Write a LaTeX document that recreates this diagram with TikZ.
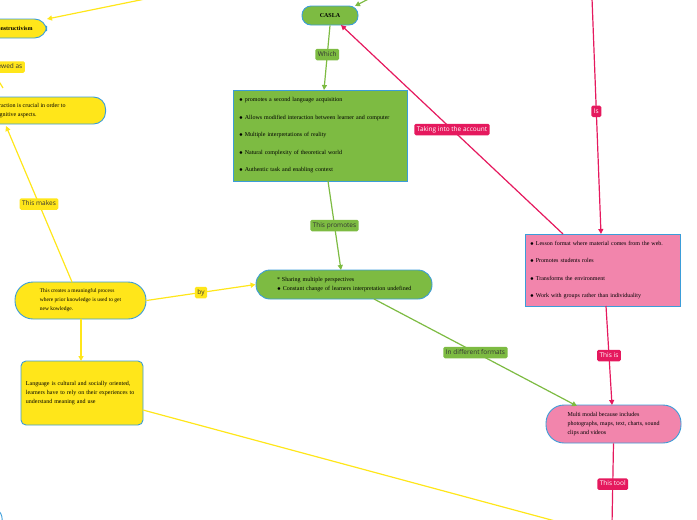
\documentclass[tikz,border=0pt]{standalone}
\usepackage{fontspec}
\setmainfont{Liberation Serif}
\newfontfamily\lab{Open Sans}
\usetikzlibrary{arrows.meta}
\definecolor{yel}{HTML}{FFE61A}
\definecolor{grn}{HTML}{7DBB42}
\definecolor{pnk}{HTML}{F285AC}
\definecolor{mag}{HTML}{E5195E}
\definecolor{bdr}{HTML}{3B9DD9}
\definecolor{dk}{HTML}{333333}
\tikzset{
 base/.style={draw=bdr,line width=0.9pt,font=\fontsize{6}{7.5}\selectfont,inner sep=2pt},
 pill/.style={base,rounded corners=12pt},
 lab/.style={rounded corners=1.5pt,font=\lab\fontsize{6.5}{7}\selectfont,inner sep=2.5pt,text height=5pt,text depth=1.5pt},
 ylab/.style={lab,fill=yel,text=dk},
 glab/.style={lab,fill=grn,text=dk},
 plab/.style={lab,fill=mag,text=white},
 yl/.style={draw=yel,line width=1.2pt},
 gl/.style={draw=grn,line width=1.2pt},
 pl/.style={draw=mag,line width=1.2pt},
 arr/.style={-{Triangle[length=5pt,width=5pt]}},
}
\begin{document}
\begin{tikzpicture}[x=1pt,y=-1pt]
\useasboundingbox (0,0) rectangle (697,520);
\clip (0,0) rectangle (697,520);
% nodes
\node[pill,fill=yel,minimum height=19pt,font=\fontsize{6}{7}\selectfont\bfseries,anchor=east,inner xsep=14pt] (cons) at (47,28.5) {Constructivism};
\node[ylab,anchor=east] (vw) at (25,67) {Is viewed as};
\node[pill,fill=yel,minimum height=27pt,anchor=east,align=left,inner xsep=40pt,font=\fontsize{6}{8.5}\selectfont] (inter) at (106,110.5) {Social interaction is crucial in order to\\develop cognitive aspects.};
\node[pill,fill=yel,rounded corners=18pt,minimum width=131pt,minimum height=37pt,align=left,font=\fontsize{5.5}{9}\selectfont] (crea) at (80.5,300.5) {This creates a meaningful process\\where prior knowledge is used to get\\new kowledge.};
\node[base,fill=yel,rounded corners=5pt,minimum width=122pt,minimum height=64pt,align=left,text width=112pt,font=\fontsize{6}{9}\selectfont] (lang) at (82,393) {Language is cultural and socially oriented, learners have to rely on their experiences to understand meaning and use};
\node[pill,fill=grn,rounded corners=9pt,minimum width=56pt,minimum height=19pt,font=\fontsize{6}{7}\selectfont\bfseries] (casla) at (330,15.5) {CASLA};
\node[base,fill=grn,minimum height=91pt,align=left,text width=162pt,inner xsep=6pt,font=\fontsize{6}{17.5}\selectfont] (gbox) at (320,135.5) {$\bullet$ promotes a second language acquisition\\$\bullet$ Allows modified interaction between learner and computer\\$\bullet$ Multiple interpretations of reality\\$\bullet$ Natural complexity of theoretical world\\$\bullet$ Authentic task and enabling context};
\node[pill,fill=grn,rounded corners=14pt,minimum height=29pt,align=left,text width=150pt,inner xsep=13pt,font=\fontsize{6}{9}\selectfont] (share) at (344,284.5) {\hspace*{8pt}* Sharing multiple perspectives\\\hspace*{8pt}$\bullet$ Constant change of learners interpretation undefined};
\node[base,fill=pnk,minimum height=72pt,align=left,text width=145pt,inner xsep=5pt,font=\fontsize{6}{17.5}\selectfont] (pbox) at (602.5,270) {$\bullet$ Lesson format where material comes from the web.\\$\bullet$ Promotes students roles\\$\bullet$ Transforms the environment\\$\bullet$ Work with groups rather than individuality};
\node[pill,fill=pnk,rounded corners=18pt,minimum width=135pt,minimum height=38pt,align=left,font=\fontsize{6}{9}\selectfont] (multi) at (613.5,424) {Multi modal because includes\\photographs, maps, text, charts, sound\\clips and videos};
\coordinate (tl) at (150,-2);
\coordinate (tg) at (378,-6);
\coordinate (tp) at (592,-2);
\coordinate (bl) at (570,525);
\coordinate (bp) at (612,525);
\coordinate (vin) at (-8,70);
\coordinate (c1) at (47,19);
% partial node at bottom left
\draw[bdr,line width=0.9pt] (-20,505) .. controls (0,505) and (3,515) .. (2,522);
% connectors
\draw[yl,arr] (tl) -- (c1);
\draw[yl] (vin) -- (3,88);
\draw[yl,arr] (72,282) -- (6,126) node[pos=0.5,ylab] {This makes};
\draw[yl,arr] (crea.east) -- (share.west) node[pos=0.5,ylab] {by};
\draw[yl,arr] (81,319) -- (81,361);
\draw[yl] (143,410) -- (bl);
\draw[gl,arr] (tg) -- (355,6);
\draw[gl,arr] (casla.south) -- (324,90) node[pos=0.45,glab] {Which};
\draw[gl,arr] (328,181) -- (341,270) node[pos=0.5,glab] {This promotes};
\draw[gl,arr] (374,299) -- (577,406) node[pos=0.5,glab] {In different formats};
\draw[pl,arr] (563,234) -- (341,25) node[pos=0.5,plab] {Taking into the account};
\draw[pl,arr] (tp) -- (601,234) node[pos=0.48,plab] {Is};
\draw[pl,arr] (606,306) -- (612,405) node[pos=0.5,plab] {This is};
\draw[pl] (multi.south) -- (bp) node[pos=0.5,plab] {This tool};
\end{tikzpicture}
\end{document}
